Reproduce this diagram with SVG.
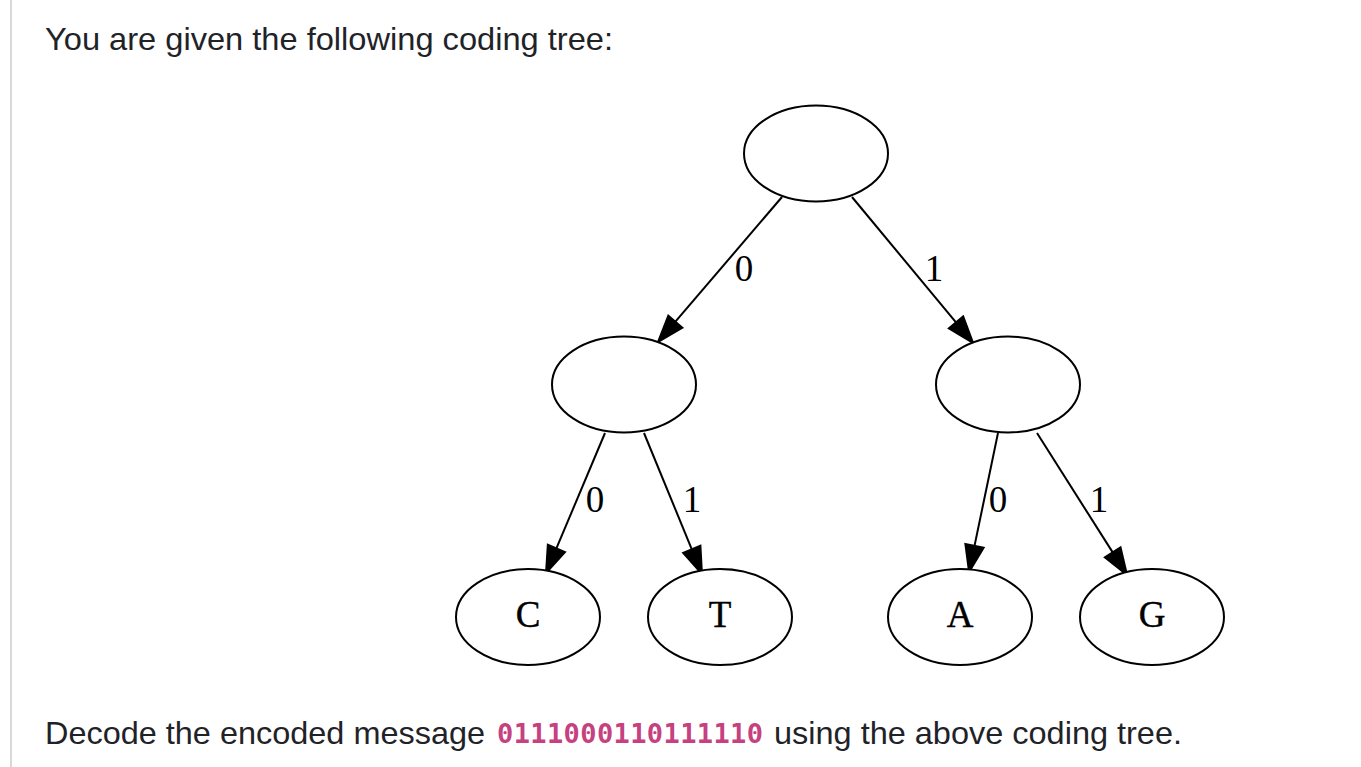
<svg xmlns="http://www.w3.org/2000/svg" width="1361" height="767" viewBox="0 0 1361 767">
  <style>
    .prose { font-family: "Liberation Sans", Arial, sans-serif; font-size: 30.5px; fill: #1f2328; }
    .code { font-family: "DejaVu Sans Mono", "Liberation Mono", monospace; font-weight: bold; font-size: 27px; fill: #c6417f; }
    .node ellipse { fill: #ffffff; stroke: #000000; stroke-width: 2; }
    .node text { font-family: "Liberation Serif", "Times New Roman", serif; font-size: 37px; text-anchor: middle; fill: #000000; stroke: #000000; stroke-width: 0.4; }
    .edges line { stroke: #000000; stroke-width: 2; }
    .edges text { font-family: "Liberation Serif", "Times New Roman", serif; font-size: 37px; text-anchor: middle; fill: #000000; }
  </style>
  <defs>
    <marker id="arrow" markerUnits="userSpaceOnUse" markerWidth="30" markerHeight="22" refX="0" refY="0" viewBox="0 -11 30 22" orient="auto" overflow="visible">
      <path d="M0,-9.3 L26.7,0 L0,9.3 Z" fill="#000000" stroke="#000000" stroke-width="2"/>
    </marker>
  </defs>

  <rect x="0" y="0" width="1361" height="767" fill="#ffffff"/>
  <!-- left rule of the text block -->
  <rect x="10" y="0" width="2" height="767" fill="#d8d8d8"/>

  <text class="prose" x="45" y="50" textLength="568" lengthAdjust="spacingAndGlyphs">You are given the following coding tree:</text>

  <!-- connectors -->
  <g class="edges" id="edges">
    <line x1="782" y1="197" x2="675.4" y2="321.7" marker-end="url(#arrow)"/>
    <line x1="852" y1="197" x2="956" y2="322.4" marker-end="url(#arrow)"/>
    <line x1="605" y1="433" x2="556.4" y2="548.4" marker-end="url(#arrow)"/>
    <line x1="644" y1="433" x2="691.8" y2="549.3" marker-end="url(#arrow)"/>
    <line x1="998" y1="433" x2="974.5" y2="545.9" marker-end="url(#arrow)"/>
    <line x1="1037" y1="433" x2="1112.7" y2="552.4" marker-end="url(#arrow)"/>
    <text x="744" y="281">0</text>
    <text x="934" y="281">1</text>
    <text x="595" y="512">0</text>
    <text x="692" y="512">1</text>
    <text x="998" y="512">0</text>
    <text x="1099" y="512">1</text>
  </g>

  <!-- nodes -->
  <g class="node" id="root"><ellipse cx="816" cy="153.5" rx="72" ry="48"/></g>
  <g class="node" id="n0"><ellipse cx="624" cy="384.5" rx="72" ry="48"/></g>
  <g class="node" id="n1"><ellipse cx="1008" cy="384.5" rx="72" ry="48"/></g>
  <g class="node" id="leafC"><ellipse cx="528" cy="617" rx="72" ry="48"/><text x="528" y="627">C</text></g>
  <g class="node" id="leafT"><ellipse cx="720" cy="617" rx="72" ry="48"/><text x="720" y="627">T</text></g>
  <g class="node" id="leafA"><ellipse cx="960" cy="617" rx="72" ry="48"/><text x="960" y="627">A</text></g>
  <g class="node" id="leafG"><ellipse cx="1152" cy="617" rx="72" ry="48"/><text x="1152" y="627">G</text></g>

  <text class="prose" x="45" y="744" textLength="440" lengthAdjust="spacingAndGlyphs">Decode the encoded message</text>
  <text class="code" x="497" y="743" textLength="266" lengthAdjust="spacing">0111000110111110</text>
  <text class="prose" x="774" y="744" textLength="408" lengthAdjust="spacingAndGlyphs">using the above coding tree.</text>
</svg>
